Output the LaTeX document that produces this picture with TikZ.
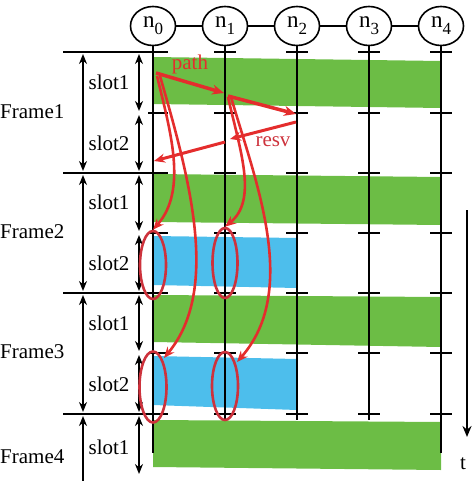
\documentclass[tikz,border=0pt]{standalone}
\usepackage{fontspec}
\setmainfont{Liberation Serif}
\usetikzlibrary{arrows.meta,shapes.geometric}
\definecolor{barGreen}{RGB}{108,189,69}
\definecolor{barBlue}{RGB}{77,190,236}
\definecolor{arrRed}{RGB}{228,45,45}
\definecolor{ellRed}{RGB}{205,50,60}
\tikzset{
  nodeell/.style={draw, line width=1.6pt, ellipse, minimum width=45pt, minimum height=39pt, inner sep=0pt, font=\fontsize{23}{23}\selectfont},
  lbl/.style={font=\fontsize{21}{21}\selectfont, inner sep=0pt},
  blk/.style={line width=2pt},
  dim/.style={line width=2.4pt, {Stealth[length=10pt,width=8pt]}-{Stealth[length=10pt,width=8pt]}},
  redarr/.style={draw=arrRed, line width=3.5pt, -{Stealth[length=12pt,width=10pt]}},
  redcurve/.style={draw=arrRed, line width=2.6pt, -{Stealth[length=11pt,width=9pt]}},
  redell/.style={draw=ellRed, line width=2.6pt}
}
\newcommand{\nlab}[1]{n\raisebox{-7pt}{\fontsize{17}{17}\selectfont #1}}
\begin{document}
\begin{tikzpicture}[x=1pt,y=-1pt]
\useasboundingbox (0,0) rectangle (474,481);
% bars
\fill[barGreen] (153,57) -- (441,61) -- (441,108) -- (153,104) -- cycle;
\fill[barGreen] (153,174) -- (441,177) -- (441,225) -- (153,222) -- cycle;
\fill[barGreen] (153,295) -- (441,297) -- (441,347) -- (153,342) -- cycle;
\fill[barGreen] (153,420) -- (441,422) -- (441,470) -- (153,467) -- cycle;
\fill[barBlue] (153,236) -- (297,238) -- (297,288) -- (153,285) -- cycle;
\fill[barBlue] (153,356) -- (297,359) -- (297,410) -- (153,405) -- cycle;
% nodes
\node[nodeell] (n0) at (153,26) {\nlab{0}};
\node[nodeell] (n1) at (225,26) {\nlab{1}};
\node[nodeell] (n2) at (297,26) {\nlab{2}};
\node[nodeell] (n3) at (369,26) {\nlab{3}};
\node[nodeell] (n4) at (441,26) {\nlab{4}};
\draw[blk] (n0) -- (n1);
\draw[blk] (n1) -- (n2);
\draw[blk] (n2) -- (n3);
\draw[blk] (n3) -- (n4);
% vertical lines
\coordinate (e0) at (153,453);
\coordinate (e1) at (225,420);
\coordinate (e2) at (297,420);
\coordinate (e3) at (369,420);
\coordinate (e4) at (441,453);
\foreach \i in {0,...,4} { \draw[blk] (n\i.south) -- (e\i); }
% frame lines
\foreach \y in {52,173,293,414} { \draw[blk] (63,\y) -- (168,\y); }
\foreach \y in {113,233,353} { \draw[blk] (148,\y) -- (168,\y); }
\foreach \x in {225,297,369,441} {
  \foreach \y in {52,113,173,233,293,353,414} { \draw[blk] (\x-11,\y) -- (\x+11,\y); }
}
% dimension arrows
\foreach \a/\b in {52/173,173/293,293/414} { \draw[dim] (83,\a+2) -- (83,\b-2); }
\draw[line width=2.4pt, {Stealth[length=10pt,width=8pt]}-] (83,416) -- (83,481);
\foreach \a/\b in {52/113,113/173,173/233,233/293,293/353,353/414,414/476} { \draw[dim] (139,\a+2) -- (139,\b-2); }
% labels
\node[lbl, anchor=west] (f1) at (0,112) {Frame1};
\node[lbl, anchor=west] (f2) at (0,232) {Frame2};
\node[lbl, anchor=west] (f3) at (0,352) {Frame3};
\node[lbl, anchor=west] (f4) at (0,457) {Frame4};
\node[lbl] (s11) at (109,82) {slot1};
\node[lbl] (s12) at (109,143) {slot2};
\node[lbl] (s21) at (109,202) {slot1};
\node[lbl] (s22) at (109,263) {slot2};
\node[lbl] (s31) at (109,323) {slot1};
\node[lbl] (s32) at (109,384) {slot2};
\node[lbl] (s41) at (109,447) {slot1};
% time arrow
\coordinate (t0) at (467,210);
\coordinate (t1) at (467,437);
\draw[line width=2.4pt, -{Stealth[length=11pt,width=9pt]}] (t0) -- (t1);
\node[lbl] (tl) at (463,464) {t};
% red path
\coordinate (p0) at (156,73);
\coordinate (p1) at (224,93);
\coordinate (p2) at (228,96);
\coordinate (p3) at (296,114);
\coordinate (r0) at (296,122);
\coordinate (r1) at (230,139);
\coordinate (r2) at (225,142);
\coordinate (r3) at (154,161);
\draw[redarr] (p0) -- (p1);
\draw[redarr] (p2) -- (p3);
\draw[redcurve, line width=3pt] (r0) -- (r1);
\draw[redcurve, line width=3pt] (r2) -- (r3);
\node[lbl, text=arrRed] (pl) at (190,64) {path};
\node[lbl, text=ellRed] (rl) at (273,142) {resv};
% red ellipses
\node[redell, ellipse, minimum width=26pt, minimum height=68pt, inner sep=0pt] (E20) at (153,265) {};
\node[redell, ellipse, minimum width=25pt, minimum height=70pt, inner sep=0pt] (E21) at (225,263) {};
\node[redell, ellipse, minimum width=27pt, minimum height=71pt, inner sep=0pt] (E30) at (153,387) {};
\node[redell, ellipse, minimum width=26pt, minimum height=68pt, inner sep=0pt] (E31) at (225,386) {};
% red curves
\coordinate (cA) at (157,76);
\coordinate (cB) at (160,76);
\coordinate (cC) at (228,97);
\coordinate (cD) at (231,97);
\draw[redcurve] (cA) .. controls (170,130) and (188,190) .. (E20.north);
\draw[redcurve] (cB) .. controls (190,180) and (220,290) .. (164,358);
\draw[redcurve] (cC) .. controls (240,150) and (258,200) .. (E21.north);
\draw[redcurve] (cD) .. controls (255,180) and (300,290) .. (237,362);
\end{tikzpicture}
\end{document}
